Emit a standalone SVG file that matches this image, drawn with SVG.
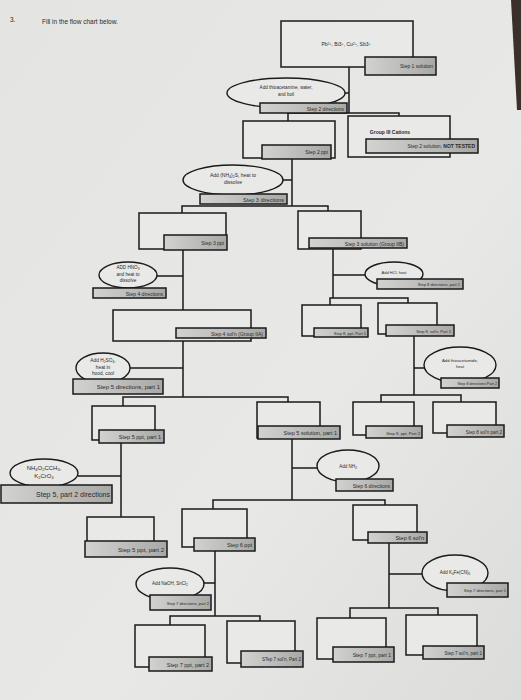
<svg xmlns="http://www.w3.org/2000/svg" width="521" height="700" viewBox="0 0 521 700">
<defs>
<linearGradient id="tabg" x1="0" y1="0" x2="1" y2="0">
<stop offset="0" stop-color="#d2d2d0"/>
<stop offset="1" stop-color="#a8a8a6"/>
</linearGradient>
<linearGradient id="paper" x1="0" y1="0" x2="1" y2="1">
<stop offset="0" stop-color="#e4e5e3"/>
<stop offset="0.6" stop-color="#e8e8e6"/>
<stop offset="1" stop-color="#dcdcda"/>
</linearGradient>
</defs>
<style>
.box{fill:#e9e9e7;stroke:#1a1a1a;stroke-width:1.5}
.ell{fill:#e9e9e7;stroke:#1a1a1a;stroke-width:1.4}
.tab{fill:url(#tabg);stroke:#1a1a1a;stroke-width:1.5}
.t{font-family:"Liberation Sans","Open Sans",sans-serif;fill:#2a2a2a;font-size:5px}
.r{text-anchor:end}
.c{text-anchor:middle}
.ln{fill:none;stroke:#1a1a1a;stroke-width:1.5}
</style>
<rect width="521" height="700" fill="url(#paper)"/>
<polygon points="511,0 521,0 521,110 517,110" fill="#3b3029"/>
<text class="t" x="10" y="22" style="font-size:6.5px">3.</text>
<text class="t" x="42" y="24" style="font-size:6.5px">Fill in the flow chart below.</text>

<g id="connectors" class="ln">
<path d="M349,67 V113 M288,121 V113 H399 V116 M345,93 H349"/>
<path d="M292,159 V206 M182,213 V206 H328 V211 M283,180 H292"/>
<path d="M183,250 V310 M157,276 H183"/>
<path d="M183,341 V397 M130,368 H183 M123,406 V397 H288 V402"/>
<path d="M121,443 V517 M78,476 H121"/>
<path d="M292,439 V500 M317,468 H292 M213,509 V500 H385 V505"/>
<path d="M215,551 V616 M204,583 H215 M170,625 V616 H260 V622"/>
<path d="M389,543 V608 M422,574 H389 M350,618 V608 H438 V615"/>
<path d="M333,248 V298 M365,275 H333 M330,305 V298 H408 V303"/>
<path d="M414,336 V395 M424,368 H414 M381,402 V395 H461 V402"/>
</g>

<g id="n-start">
<rect class="box" x="281" y="21" width="132" height="46"/>
<text class="t c" x="346" y="46">Pb<tspan dy="-1.5" font-size="3.5">2+</tspan><tspan dy="1.5">, Bi3</tspan><tspan dy="-1.5" font-size="3.5">+</tspan><tspan dy="1.5">, Cu</tspan><tspan dy="-1.5" font-size="3.5">2+</tspan><tspan dy="1.5">, Sb3</tspan><tspan dy="-1.5" font-size="3.5">+</tspan></text>
<rect class="tab" x="365" y="57" width="71" height="18"/>
<text class="t r" x="433" y="68">Step 1 solution</text>
</g>

<g id="n-step2dir">
<ellipse class="ell" cx="286" cy="93" rx="59" ry="15"/>
<text class="t c" x="286" y="89" style="font-size:4.6px">Add thioacetamine, water,</text>
<text class="t c" x="286" y="96" style="font-size:4.6px">and boil</text>
<rect class="tab" x="260" y="103" width="87" height="10"/>
<text class="t r" x="344" y="110.5">Step 2 directions</text>
</g>

<g id="n-step2ppt">
<rect class="box" x="243" y="121" width="92" height="37"/>
<rect class="tab" x="262" y="145" width="69" height="14"/>
<text class="t r" x="328" y="154">Step 2 ppt</text>
</g>

<g id="n-group3">
<rect class="box" x="348" y="116" width="102" height="41"/>
<text class="t c" x="390" y="134" font-weight="bold">Group III Cations</text>
<rect class="tab" x="366" y="139" width="112" height="14"/>
<text class="t r" x="475" y="148">Step 2 solution, <tspan font-weight="bold">NOT TESTED</tspan></text>
</g>

<g id="n-step3dir">
<ellipse class="ell" cx="233" cy="180" rx="50" ry="15"/>
<text class="t c" x="233" y="177" style="font-size:5px">Add (NH<tspan dy="1" font-size="3.5">4</tspan><tspan dy="-1">)</tspan><tspan dy="1" font-size="3.5">2</tspan><tspan dy="-1">S, heat to</tspan></text>
<text class="t c" x="233" y="184" style="font-size:5px">dissolve</text>
<rect class="tab" x="200" y="194" width="87" height="10"/>
<text class="t r" x="284" y="201.5" style="font-size:5.5px">Step 3 directions</text>
</g>

<g id="n-step3ppt">
<rect class="box" x="139" y="213" width="87" height="36"/>
<rect class="tab" x="164" y="235" width="63" height="15"/>
<text class="t r" x="224" y="244.5">Step 3 ppt</text>
</g>

<g id="n-step3sol">
<rect class="box" x="298" y="211" width="63" height="38"/>
<rect class="tab" x="309" y="238" width="98" height="10"/>
<text class="t r" x="404" y="245.5">Step 3 solution (Group IIB)</text>
</g>

<g id="n-step4dir">
<ellipse class="ell" cx="128" cy="275" rx="29" ry="13"/>
<text class="t c" x="128" y="269" style="font-size:4.6px">ADD HNO<tspan dy="1" font-size="3.3">3</tspan></text>
<text class="t c" x="128" y="275.5" style="font-size:4.6px">and heat to</text>
<text class="t c" x="128" y="282" style="font-size:4.6px">dissolve</text>
<rect class="tab" x="93" y="288" width="73" height="10"/>
<text class="t r" x="163" y="295.5">Step 4 directions</text>
</g>

<g id="n-step4sol">
<rect class="box" x="113" y="310" width="138" height="31"/>
<rect class="tab" x="176" y="328" width="90" height="10"/>
<text class="t r" x="263" y="335.5">Step 4 sol'n (Group IIA)</text>
</g>

<g id="n-step5dir1">
<ellipse class="ell" cx="103" cy="368" rx="27" ry="15"/>
<text class="t c" x="103" y="362" style="font-size:4.8px">Add H<tspan dy="1" font-size="3.3">2</tspan><tspan dy="-1">SO</tspan><tspan dy="1" font-size="3.3">4</tspan><tspan dy="-1">,</tspan></text>
<text class="t c" x="103" y="368.5" style="font-size:4.8px">heat in</text>
<text class="t c" x="103" y="375" style="font-size:4.8px">hood, cool</text>
<rect class="tab" x="73" y="379" width="90" height="15"/>
<text class="t r" x="160" y="389" style="font-size:6px">Step 5 directions, part 1</text>
</g>

<g id="n-step5ppt1">
<rect class="box" x="92" y="406" width="63" height="34"/>
<rect class="tab" x="99" y="430" width="65" height="13"/>
<text class="t r" x="161" y="439" style="font-size:5.5px">Step 5 ppt, part 1</text>
</g>

<g id="n-step5sol1">
<rect class="box" x="257" y="402" width="63" height="36"/>
<rect class="tab" x="258" y="426" width="82" height="13"/>
<text class="t r" x="337" y="435" style="font-size:5.5px">Step 5 solution, part 1</text>
</g>

<g id="n-step5dir2">
<ellipse class="ell" cx="44" cy="473" rx="34" ry="14"/>
<text class="t c" x="44" y="470" style="font-size:6px">NH<tspan dy="1.2" font-size="4">4</tspan><tspan dy="-1.2">O</tspan><tspan dy="1.2" font-size="4">2</tspan><tspan dy="-1.2">CCH</tspan><tspan dy="1.2" font-size="4">3</tspan><tspan dy="-1.2">,</tspan></text>
<text class="t c" x="44" y="478" style="font-size:6px">K<tspan dy="1.2" font-size="4">2</tspan><tspan dy="-1.2">CrO</tspan><tspan dy="1.2" font-size="4">4</tspan></text>
<rect class="tab" x="1" y="485" width="111" height="18"/>
<text class="t r" x="110" y="497" style="font-size:7px">Step 5, part 2 directions</text>
</g>

<g id="n-step5ppt2">
<rect class="box" x="87" y="517" width="67" height="33"/>
<rect class="tab" x="85" y="541" width="82" height="16"/>
<text class="t r" x="164" y="552" style="font-size:6px">Step 5 ppt, part 2</text>
</g>

<g id="n-step6dir">
<ellipse class="ell" cx="348" cy="466" rx="31" ry="16"/>
<text class="t c" x="348" y="468" style="font-size:4.5px">Add NH<tspan dy="1" font-size="3.2">3</tspan></text>
<rect class="tab" x="336" y="479" width="57" height="12"/>
<text class="t r" x="390" y="487.5">Step 6 directions</text>
</g>

<g id="n-step6ppt">
<rect class="box" x="182" y="509" width="65" height="38"/>
<rect class="tab" x="194" y="538" width="61" height="13"/>
<text class="t r" x="252" y="547" style="font-size:5.5px">Step 6 ppt</text>
</g>

<g id="n-step6sol">
<rect class="box" x="353" y="505" width="64" height="35"/>
<rect class="tab" x="368" y="532" width="59" height="11"/>
<text class="t r" x="424" y="540" style="font-size:5.5px">Step 6 sol'n</text>
</g>

<g id="n-step7dir2">
<ellipse class="ell" cx="170" cy="584" rx="34" ry="16"/>
<text class="t c" x="170" y="585" style="font-size:4.5px">Add NaOH, SnCl<tspan dy="1" font-size="3.2">2</tspan></text>
<rect class="tab" x="150" y="595" width="61" height="15"/>
<text class="t r" x="209" y="604.5" style="font-size:4px">Step 7 directions, part 2</text>
</g>

<g id="n-step7ppt2">
<rect class="box" x="135" y="625" width="70" height="42"/>
<rect class="tab" x="149" y="657" width="63" height="14"/>
<text class="t r" x="209" y="666.5" style="font-size:5.5px">Step 7 ppt, part 2</text>
</g>

<g id="n-step7sol2">
<rect class="box" x="227" y="621" width="68" height="42"/>
<rect class="tab" x="241" y="651" width="62" height="16"/>
<text class="t r" x="301" y="661" style="font-size:4.5px">STep 7 sol'n, Part 2</text>
</g>

<g id="n-step7dir1">
<ellipse class="ell" cx="455" cy="573" rx="33" ry="18"/>
<text class="t c" x="455" y="574" style="font-size:4.5px">Add K<tspan dy="1" font-size="3.2">4</tspan><tspan dy="-1">Fe(CN)</tspan><tspan dy="1" font-size="3.2">6</tspan></text>
<rect class="tab" x="447" y="583" width="61" height="14"/>
<text class="t r" x="506" y="592" style="font-size:4px">Step 7 directions, part 1</text>
</g>

<g id="n-step7ppt1">
<rect class="box" x="317" y="618" width="69" height="41"/>
<rect class="tab" x="333" y="647" width="61" height="15"/>
<text class="t r" x="391" y="656.5" style="font-size:5px">Step 7 ppt, part 1</text>
</g>

<g id="n-step7sol1">
<rect class="box" x="406" y="615" width="71" height="40"/>
<rect class="tab" x="423" y="646" width="61" height="13"/>
<text class="t r" x="482" y="654.5" style="font-size:4.5px">Step 7 sol'n, part 1</text>
</g>

<g id="n-step8dir1">
<ellipse class="ell" cx="394" cy="274" rx="29" ry="12"/>
<text class="t c" x="394" y="274" style="font-size:4px">Add HCl, heat</text>
<rect class="tab" x="377" y="279" width="86" height="10"/>
<text class="t r" x="460" y="286" style="font-size:4px">Step 8 directions, part 1</text>
</g>

<g id="n-step8ppt1">
<rect class="box" x="302" y="305" width="59" height="31"/>
<rect class="tab" x="314" y="328" width="54" height="9"/>
<text class="t r" x="366" y="334.5" style="font-size:4px">Step 8, ppt, Part 1</text>
</g>

<g id="n-step8sol1">
<rect class="box" x="378" y="303" width="59" height="31"/>
<rect class="tab" x="386" y="325" width="68" height="11"/>
<text class="t r" x="451" y="332.5" style="font-size:4px">Step 8, sol'n, Part 1</text>
</g>

<g id="n-step8dir2">
<ellipse class="ell" cx="460" cy="365" rx="36" ry="18"/>
<text class="t c" x="460" y="362" style="font-size:4.2px">Add thioacetamide,</text>
<text class="t c" x="460" y="368" style="font-size:4.2px">heat</text>
<rect class="tab" x="441" y="378" width="58" height="10"/>
<text class="t r" x="497" y="385" style="font-size:3.8px">Step 8 directions Part 2</text>
</g>

<g id="n-step8ppt2">
<rect class="box" x="353" y="402" width="61" height="33"/>
<rect class="tab" x="366" y="426" width="56" height="12"/>
<text class="t r" x="420" y="434.5" style="font-size:4.2px">Step 8, ppt, Part 2</text>
</g>

<g id="n-step8sol2">
<rect class="box" x="433" y="402" width="63" height="31"/>
<rect class="tab" x="447" y="425" width="57" height="12"/>
<text class="t r" x="502" y="433.5" style="font-size:4.5px">Step 8 sol'n part 2</text>
</g>
</svg>
